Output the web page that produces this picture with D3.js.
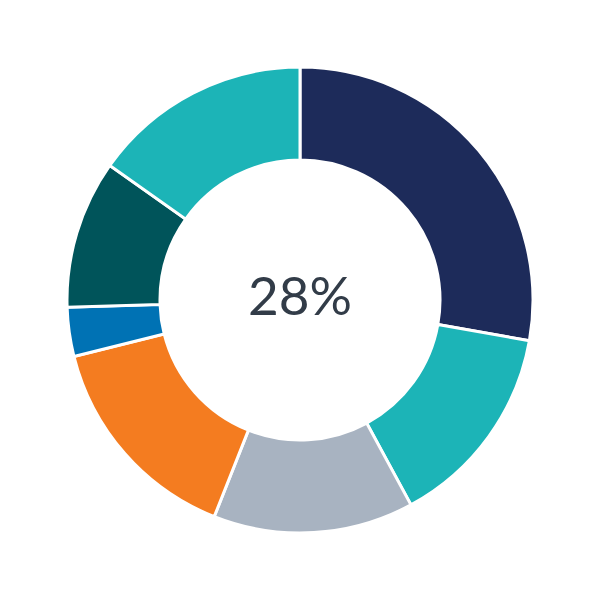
<!DOCTYPE html>
<html>
<head>
<meta charset="utf-8">
<style>
  body { margin: 0; background: #fff; }
  svg { display: block; }
  .center-label { font-family: Lato, "Open Sans", sans-serif; fill: #323c48; }
</style>
</head>
<body>
<svg width="600" height="600"></svg>
<script src="https://cdn.jsdelivr.net/npm/d3@7"></script>
<script>
  // slices clockwise from 12 o'clock
  let segments = ["A", "B", "C", "D", "E", "F", "G"];
  let values = [27.8, 14.3, 13.9, 15.1, 3.4, 10.3, 15.2];
  let colors = ["#1d2b5a", "#1cb4b7", "#a8b3c1", "#f47c20", "#0072b4", "#00545a", "#1cb4b7"];
  let centerText = "28%";

  let width = 600, height = 600;
  let svg = d3.select("svg").attr("viewBox", [0, 0, width, height]);
  let g = svg.append("g").attr("transform", `translate(300,300)`);

  let pie = d3.pie().sort(null).value(d => d.value);
  let arc = d3.arc().innerRadius(140).outerRadius(233);

  let data = segments.map((s, i) => ({ name: s, value: values[i], color: colors[i] }));

  g.selectAll("path")
    .data(pie(data))
    .join("path")
    .attr("d", arc)
    .attr("fill", d => d.data.color)
    .attr("stroke", "#fff")
    .attr("stroke-width", 3);

  g.append("text")
    .attr("class", "center-label")
    .attr("text-anchor", "middle")
    .attr("y", 15)
    .attr("font-size", 53)
    .text(centerText);
</script>
</body>
</html>
